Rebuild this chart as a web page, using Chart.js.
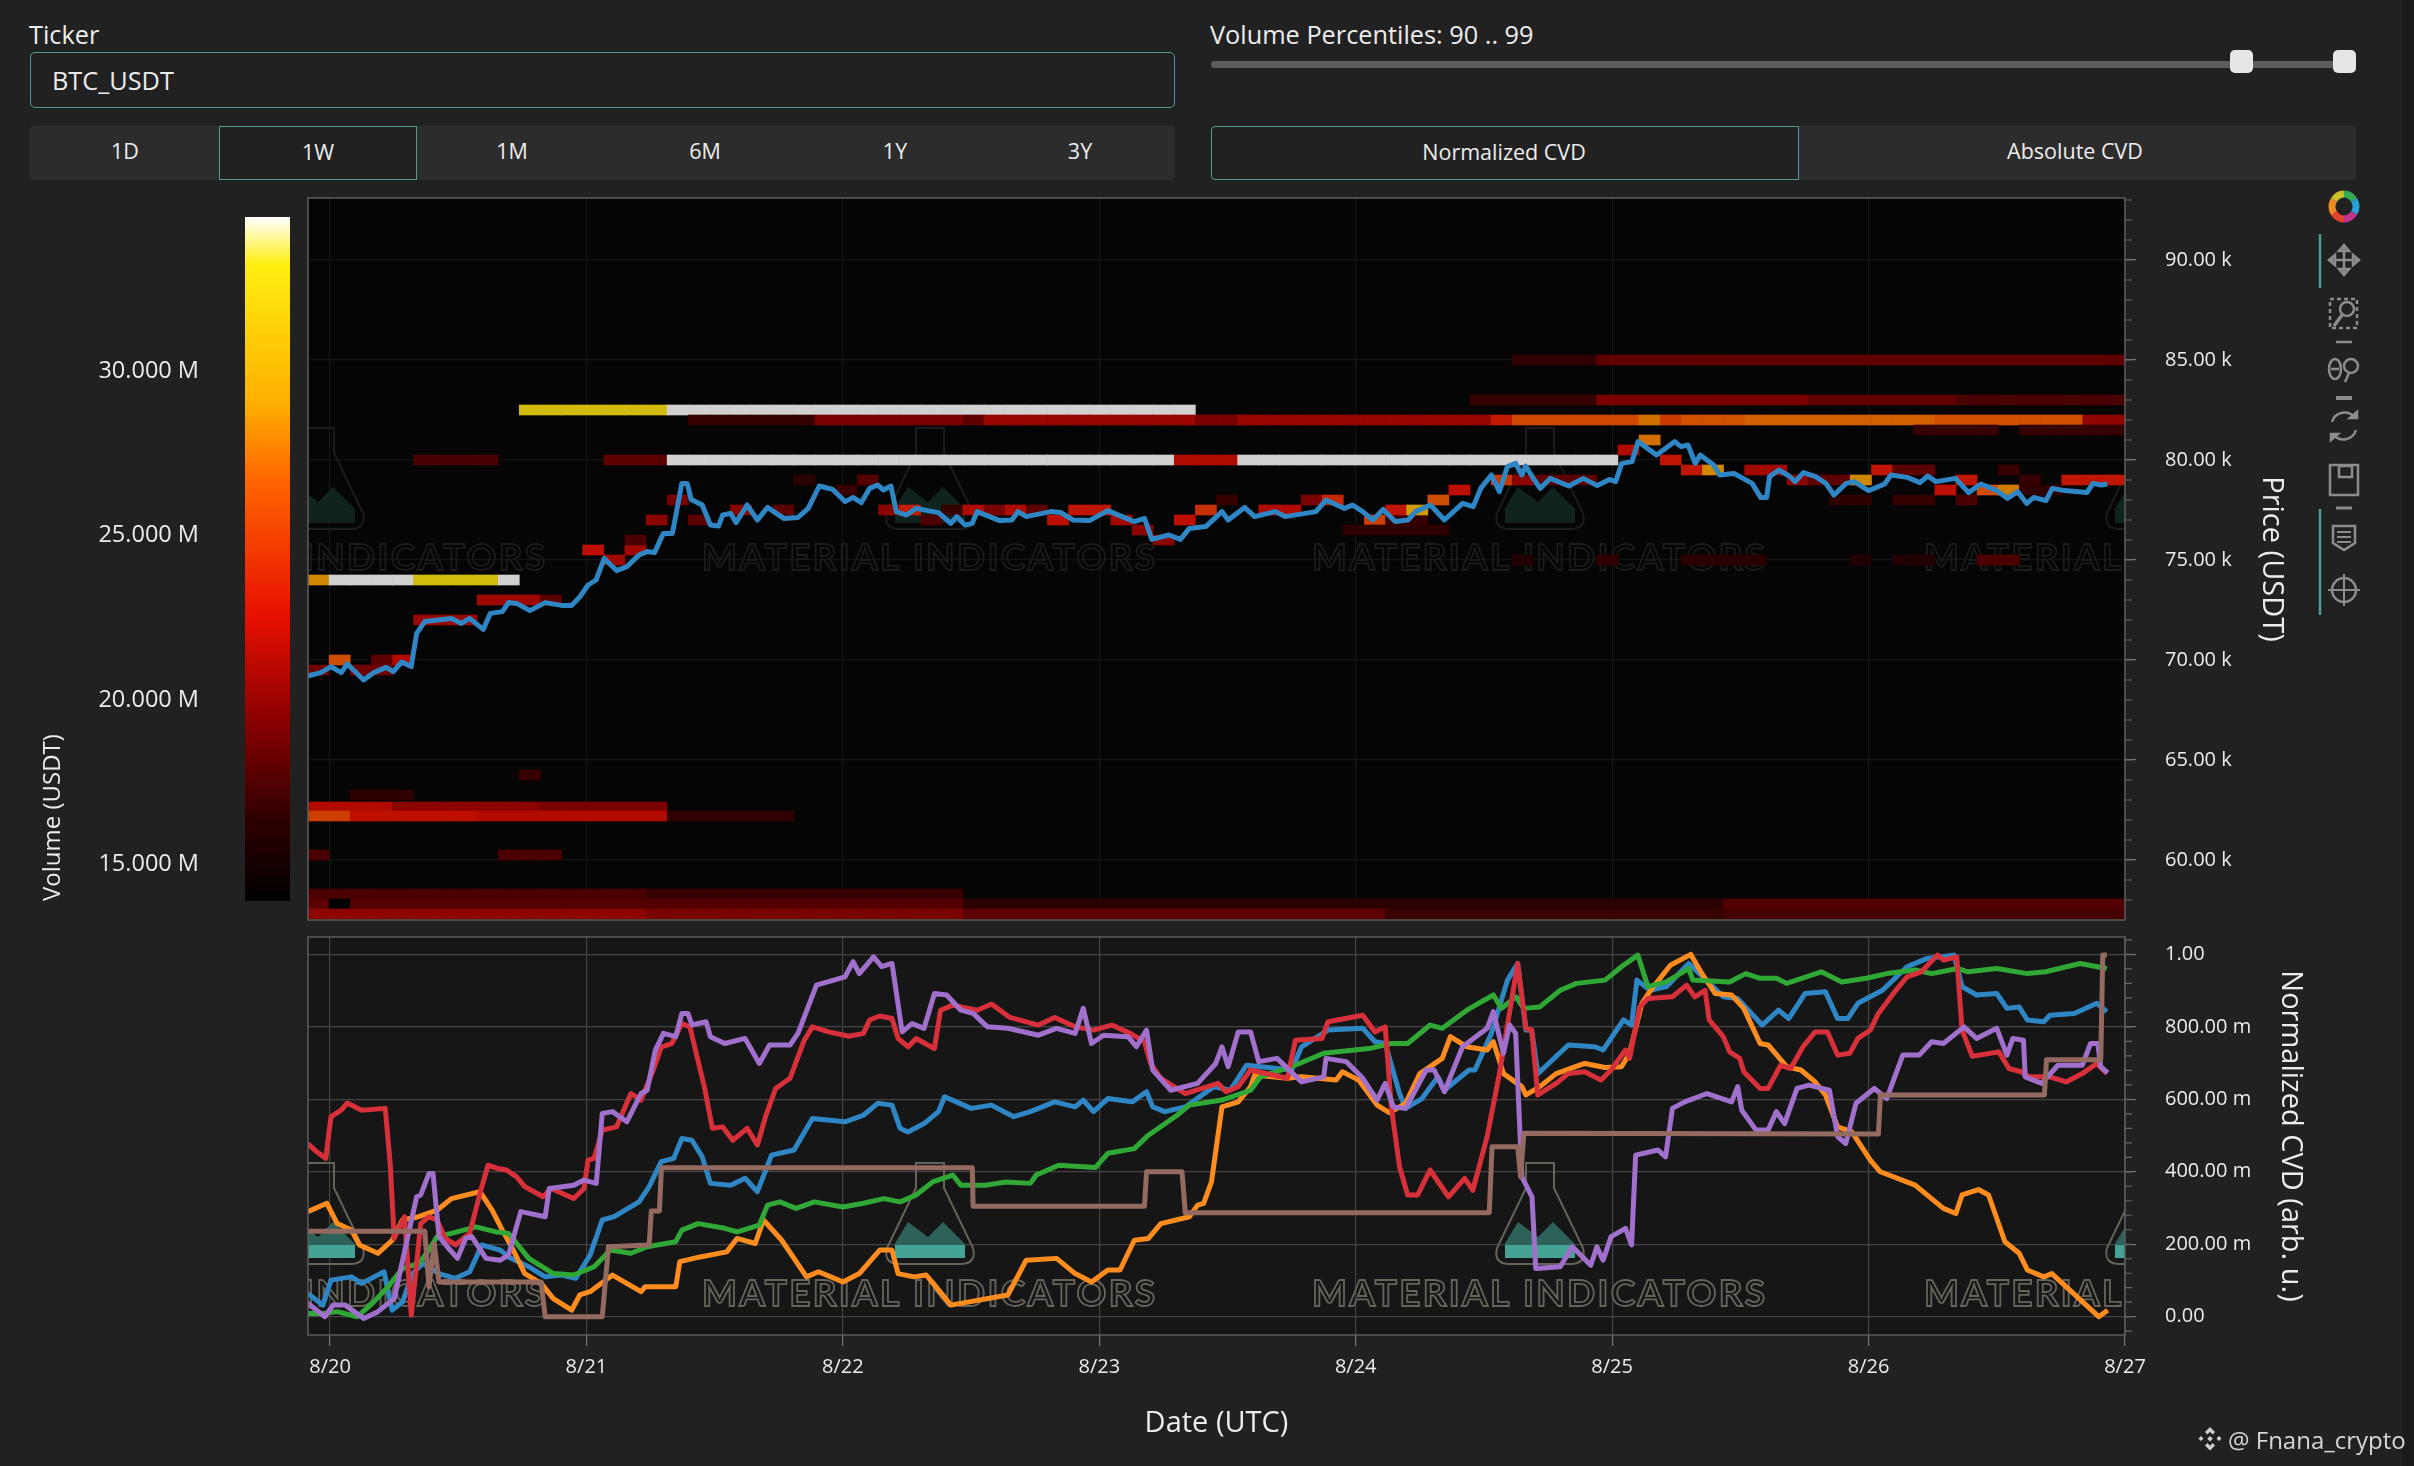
<!DOCTYPE html>
<html>
<head>
<meta charset="utf-8">
<title>BTC_USDT CVD</title>
<script src="https://cdn.jsdelivr.net/npm/chart.js@4"></script>
<style>
html, body { margin: 0; padding: 0; width: 2414px; height: 1466px; overflow: hidden; background: #212121; color: #ececec; font-family: "Open Sans", "Noto Sans", sans-serif; }
canvas { position: absolute; }
.abs { position: absolute; }
.lbl { font-size: 25.3px; line-height: 34px; white-space: nowrap; }
.box { box-sizing: border-box; }
.seg { background: #2c2c2c; border-radius: 4px; }
.sel { background: #212121; border: 1.5px solid #4f9c94; box-sizing: border-box; }
.txt { font-size: 21.5px; line-height: 30px; transform: translate(-50%, -50%); white-space: nowrap; }
</style>
</head>
<body>
<div class="abs lbl" style="left:29px;top:17px">Ticker</div>
<div class="abs box" style="left:30px;top:52px;width:1145px;height:56px;border:1.5px solid #4f9c94;border-radius:5px"></div>
<div class="abs lbl" style="left:52px;top:63px">BTC_USDT</div>
<div class="abs seg" style="left:30px;top:126px;width:1145px;height:54px"></div>
<div class="abs sel" style="left:219px;top:126px;width:198px;height:54px"></div>
<div class="abs txt" style="left:125px;top:151px">1D</div>
<div class="abs txt" style="left:318px;top:152px">1W</div>
<div class="abs txt" style="left:512px;top:151px">1M</div>
<div class="abs txt" style="left:705px;top:151px">6M</div>
<div class="abs txt" style="left:895px;top:151px">1Y</div>
<div class="abs txt" style="left:1080px;top:151px">3Y</div>

<div class="abs lbl" style="left:1210px;top:17px">Volume Percentiles: 90 .. 99</div>
<div class="abs" style="left:1211px;top:61px;width:1135px;height:7px;background:#5c5c5c;border-radius:3px"></div>
<div class="abs" style="left:2230px;top:50px;width:23px;height:23px;background:#e6e6e6;border-radius:5px"></div>
<div class="abs" style="left:2333px;top:50px;width:23px;height:23px;background:#e6e6e6;border-radius:5px"></div>
<div class="abs seg" style="left:1211px;top:126px;width:1145px;height:54px"></div>
<div class="abs sel" style="left:1211px;top:126px;width:588px;height:54px;border-radius:4px 0 0 4px"></div>
<div class="abs txt" style="left:1504px;top:152px">Normalized CVD</div>
<div class="abs txt" style="left:2075px;top:151px">Absolute CVD</div>

<canvas id="colorbar" width="251" height="695" style="left:39px;top:210px"></canvas>
<canvas id="heat" width="1989" height="740" style="left:300px;top:190px"></canvas>
<canvas id="cvd" width="2008" height="511" style="left:300px;top:930px"></canvas>

<svg class="abs" style="left:2300px;top:185px" width="90" height="430" viewBox="2300 185 90 430" fill="none" stroke="#8c8c8c" stroke-width="2.5">
  <g stroke-width="7" fill="none">
    <path d="M2344 194 A12 12 0 0 1 2354 200" stroke="#34a853"/>
    <path d="M2354 200 A12 12 0 0 1 2354 213" stroke="#2a9fd6"/>
    <path d="M2354 213 A12 12 0 0 1 2344 219" stroke="#c2338d"/>
    <path d="M2344 219 A12 12 0 0 1 2334 213" stroke="#e5432d"/>
    <path d="M2334 213 A12 12 0 0 1 2334 200" stroke="#f08a24"/>
    <path d="M2334 200 A12 12 0 0 1 2344 194" stroke="#c9c02a"/>
  </g>
  <line x1="2320" y1="234" x2="2320" y2="288" stroke="#4f9c94"/>
  <line x1="2320" y1="509" x2="2320" y2="616" stroke="#4f9c94"/>
  <path d="M2344 245V275M2329 260H2359M2344 245l-5 6h10zM2344 275l-5 -6h10zM2329 260l6 -5v10zM2359 260l-6 -5v10z"/>
  <rect x="2330" y="299" width="27" height="29" stroke-dasharray="4 3"/>
  <circle cx="2347" cy="309" r="7"/><line x1="2342" y1="315" x2="2334" y2="326" stroke-width="3.5"/>
  <line x1="2336" y1="342" x2="2352" y2="342"/>
  <ellipse cx="2335" cy="369" rx="6" ry="10"/><line x1="2331" y1="369" x2="2339" y2="369"/>
  <circle cx="2351" cy="366" r="7"/><line x1="2349" y1="373" x2="2345" y2="382"/>
  <line x1="2336" y1="398" x2="2352" y2="398" stroke-width="4"/>
  <path d="M2332 422 A13 13 0 0 1 2355 418M2356 430 A13 13 0 0 1 2333 434"/>
  <path d="M2350 418h7v-6zM2338 434h-7v6z" fill="#8c8c8c"/>
  <path d="M2330 465H2358V495H2330Z"/><rect x="2339" y="466" width="13" height="11"/>
  <line x1="2336" y1="508" x2="2352" y2="508" stroke-width="3"/>
  <path d="M2333 526H2355V543L2344 550L2333 543Z"/><path d="M2337 532H2351M2337 537H2351M2337 542H2351" stroke-width="2"/>
  <circle cx="2344" cy="590" r="12"/><path d="M2344 574V606M2328 590H2360" stroke-width="2"/>
</svg>

<div class="abs" style="left:2402px;top:0;width:12px;height:1466px;background:#1b1b1b"></div>
<svg class="abs" style="left:2196px;top:1426px" width="28" height="28" viewBox="0 0 28 28" fill="#cfcfcf">
  <path d="M14 1l5 5-2.4 2.4L14 5.8l-2.6 2.6L9 6zM5 10l2.5 2.5L5 15l-2.500-2.500zM23 10l2.500 2.500L23 15l-2.500-2.500zM14 10l2.800 2.800L14 15.600l-2.800-2.800zM14 24.500l-5-5 2.400-2.400 2.600 2.600 2.600-2.600 2.400 2.400z"/>
</svg>
<div class="abs" style="left:2228px;top:1423px;font-size:24px;line-height:34px;color:#d6d6d6;white-space:nowrap">@ Fnana_crypto</div>

<script>
// time axis is hours from 8/20 00:00 UTC
const dayTicks = [0, 24, 48, 72, 96, 120, 144, 168];
const dayLabels = ["8/20", "8/21", "8/22", "8/23", "8/24", "8/25", "8/26", "8/27"];
const xMin = -2.06;
const xMax = 168;

const priceTicks = [60000, 65000, 70000, 75000, 80000, 85000, 90000];
const cvdTicks = [0, 0.2, 0.4, 0.6, 0.8, 1];
const cvdTickLabels = ["0.00", "200.00 m", "400.00 m", "600.00 m", "800.00 m", "1.00"];
const volumeTicks = [15, 20, 25, 30];
const volumeRange = [13.9, 34.68];

const priceHours = [-2.08,-0.86,0.09,1.05,1.62,3.15,4.1,5.25,5.93,6.7,7.6,8.11,8.87,11.36,12.3,13.07,14.34,15,16.13,16.7,17.47,18.7,20.14,21.67,22.62,23.4,24.15,24.9,25.67,26.82,27.78,28.92,29.68,30.37,31.2,32.05,32.93,33.43,33.8,34.84,35.6,36.37,36.75,37.5,38,39.04,40,40.95,42.47,43.8,44.76,45.8,47.05,48.2,48.96,49.73,50.5,51.26,51.8,52.5,53,53.93,54.85,56.95,58.1,58.66,59.43,60.1,60.57,62.67,63.82,64.4,65.16,67.45,68.4,69.55,71.07,72.8,74.13,75.28,76.23,76.92,78.52,79.59,80.43,81.96,83.48,84.06,85.6,86.54,88.45,89.4,92.27,93.22,94.94,95.7,96.66,97.6,98.56,99.7,100.9,101.6,103,104.3,106,107,107.7,108.7,109.45,110.2,110.97,111.55,111.9,112.6,113.27,114.2,115.94,117.3,118.6,119.76,120.33,120.9,121.86,122.43,124.15,125.87,126.44,127.1,127.78,128.24,129.5,130.07,131.4,133.1,133.9,134.46,134.73,135.6,136.56,137.13,137.9,139.04,140,140.76,141.9,142.67,144,145.5,146.1,147.63,148.8,149.54,150.3,152.14,153.36,154.5,156,157,157.95,158.8,159.47,160.6,161.2,162.35,164.43,165,165.77,166.34];
const priceValues = [69200,69370,69670,69370,69800,69000,69370,69630,69420,69900,69670,71330,71920,72080,71830,72080,71530,72330,72420,72870,72830,72470,72870,72730,72730,73170,73750,74000,75080,74470,74670,75250,75420,75370,76330,76330,78830,78830,78030,77750,76750,76700,77250,77330,76870,77750,77000,77630,77080,77130,77580,78700,78530,77920,78130,77870,78580,78750,78500,78700,77420,77250,77580,77370,76830,77170,76750,76830,77420,76970,77000,77420,77170,77420,77370,77000,76970,77470,77170,76920,77080,76030,76250,76030,76580,76670,77420,77000,77630,77170,77420,77170,77420,78000,77580,77750,77420,77000,77530,76920,77000,77420,77750,77000,77830,77670,78580,79250,78420,79670,79830,79250,79700,79100,78580,79080,78700,79080,78720,79030,78920,79830,79920,80920,80250,80920,80670,80750,79830,80250,79750,79250,79330,78830,78130,78130,79170,79500,79200,78920,79370,79170,78830,78250,78830,78920,78470,78800,79250,79130,78870,79200,78920,79080,78370,78800,78470,78080,78420,77830,78130,77970,78580,78470,78370,78830,78750,78800];

const blueHours = [-2.08,-0.67,0.09,2,2.96,5.06,5.82,6.78,7.73,8.68,10.2,11.74,13.07,14.22,15.94,16.7,18.6,20.14,21.67,23,24.34,25.48,26.6,28.92,29.87,31,32.17,32.93,33.88,34.84,35.6,37.5,38.85,40,41.33,43.43,45.15,48.2,49.92,51.26,52.6,53.36,54.08,55.6,56.95,57.52,60,61.9,64,65.54,67.83,69.74,70.5,71.46,72.8,75.08,76.42,77,78.14,80.05,82.72,84.25,85.77,90,90.93,93.4,96.66,97.8,98.76,100.1,100.67,102.2,103.7,104.3,106.6,107.16,108.7,110.2,111.16,111.93,112.47,113.04,115.9,118.38,119.15,121.06,121.82,122.32,123.54,125.07,127.17,128.5,130.4,131.75,134.04,135.57,136.52,138.05,139.96,141.1,142.06,143,145.3,147.6,149.5,152,152.75,154.1,156,156.95,158.1,158.86,160.4,160.96,163.25,165.35,166.3];
const blueValues = [0.064,0.032,0.101,0.11,0.092,0.124,0.018,0.041,0.119,0.147,0.119,0.106,0.124,0.198,0.184,0.165,0.138,0.11,0.115,0.106,0.17,0.267,0.276,0.317,0.359,0.428,0.437,0.492,0.487,0.441,0.368,0.363,0.382,0.345,0.446,0.46,0.547,0.538,0.556,0.589,0.584,0.52,0.51,0.533,0.566,0.607,0.575,0.584,0.552,0.566,0.593,0.579,0.598,0.566,0.602,0.593,0.621,0.579,0.566,0.579,0.635,0.625,0.694,0.681,0.745,0.791,0.796,0.759,0.754,0.616,0.575,0.602,0.662,0.625,0.681,0.681,0.782,0.929,0.975,0.791,0.791,0.671,0.75,0.745,0.736,0.819,0.805,0.929,0.901,0.911,0.975,0.938,0.883,0.878,0.805,0.846,0.823,0.892,0.897,0.823,0.823,0.865,0.901,0.966,0.989,0.998,0.911,0.888,0.892,0.851,0.855,0.819,0.814,0.832,0.837,0.865,0.842];

const orangeHours = [-2.08,-0.29,0.67,2,2.76,4.48,5.82,6.78,8.3,10.02,11.36,14.03,15.17,16.13,17.08,18.23,19.76,20.9,22.62,23.38,24.34,26.44,29.11,29.5,32.36,32.74,34.65,37.13,38.1,39.8,40.57,42.28,44.6,45.72,48,49.54,51.45,52.6,53.17,54.66,55.8,58.1,63.44,65.16,68,69.74,71.27,72.8,73.94,75.28,76.6,77.76,80.43,81.2,81.77,82.5,83.48,85,86.16,86.54,89.6,90.93,94.17,94.75,96.28,98,99.14,100.67,102,104.1,104.86,106.4,108.3,108.88,109.83,111.55,111.93,113.23,114.76,117.43,119.34,120.87,121.63,122.78,123.73,125.45,127.36,128.3,129.65,131.18,132.32,133.85,134.6,136.33,137.67,139,139.96,141.1,142.44,144.16,145.1,148.36,151,152.17,152.75,154.28,155.23,156.76,158.1,158.86,160.4,161.15,165.54,166.38];
const orangeValues = [0.29,0.313,0.257,0.239,0.198,0.175,0.211,0.267,0.276,0.294,0.326,0.345,0.294,0.239,0.188,0.119,0.092,0.05,0.018,0.06,0.069,0.115,0.069,0.083,0.083,0.152,0.165,0.179,0.216,0.202,0.267,0.211,0.11,0.124,0.096,0.119,0.184,0.184,0.119,0.11,0.115,0.032,0.06,0.156,0.161,0.119,0.096,0.129,0.129,0.211,0.216,0.257,0.276,0.308,0.313,0.372,0.579,0.593,0.635,0.667,0.658,0.662,0.653,0.676,0.653,0.584,0.563,0.589,0.671,0.713,0.773,0.745,0.736,0.759,0.671,0.635,0.612,0.635,0.671,0.699,0.688,0.69,0.727,0.865,0.906,0.97,1,0.952,0.892,0.888,0.851,0.754,0.75,0.69,0.681,0.648,0.612,0.524,0.51,0.432,0.4,0.363,0.299,0.285,0.336,0.351,0.336,0.207,0.175,0.129,0.11,0.119,0,0.018];

const greenHours = [-2.08,-0.67,0.67,2.57,4.1,5.44,6.78,8.3,9.26,10.02,11.36,13.65,15.56,16.7,18.6,20.9,22.81,24.72,26.25,28.16,29.68,32.36,32.93,34.46,36.94,38.1,40.18,40.95,42.1,43.62,45.34,48,49.92,51.83,53.36,54.85,56.4,58.28,59.05,61.34,63.25,65.54,66.1,68.2,71.65,72.8,75.28,76.6,79.28,80.43,83.48,86.16,87.1,90,93,97.23,99.33,100.86,102.96,104.1,106.4,108.88,109.64,111,111.74,113.23,115.14,116.67,119.34,120.87,122.4,123.35,125.07,127.17,127.55,131,132.5,133.85,135.37,136.33,139.57,141.5,143.78,145.7,148.36,149.9,152.37,153.32,156,158.86,160.57,163.8,166.3];
const greenValues = [0.009,0.009,0.014,0,0.041,0.083,0.133,0.147,0.184,0.221,0.23,0.248,0.234,0.23,0.161,0.119,0.115,0.138,0.184,0.175,0.193,0.207,0.239,0.257,0.244,0.234,0.253,0.308,0.317,0.299,0.317,0.303,0.313,0.326,0.317,0.336,0.372,0.391,0.363,0.363,0.372,0.368,0.391,0.418,0.412,0.451,0.464,0.501,0.556,0.584,0.598,0.625,0.662,0.69,0.727,0.74,0.754,0.754,0.805,0.796,0.846,0.888,0.851,0.883,0.851,0.855,0.901,0.92,0.929,0.966,0.998,0.911,0.924,0.961,0.929,0.924,0.947,0.934,0.934,0.92,0.952,0.924,0.934,0.947,0.957,0.947,0.961,0.952,0.961,0.947,0.952,0.975,0.961];

const redHours = [-2.08,-1.24,-0.4,0.09,1.05,1.62,2.96,5.17,5.63,6.01,6.97,7.61,8.49,9.26,10.02,10.78,11.74,13.07,14.03,14.79,15.75,16.51,17.47,18.23,19.95,20.71,22.81,23.77,24.15,24.72,25.48,26.82,28.16,29.11,30.26,31.02,31.98,32.93,33.69,34.27,35.03,35.79,36.75,37.7,39.04,40,40.76,41.71,43.05,44.38,45.15,46.68,48.58,49.92,50.5,51.45,52.6,53.17,54.12,54.85,56.57,57.14,58.28,60.57,61.91,63.63,66.3,67.83,69.74,71.46,73.17,74.89,76.23,76.8,77.76,80.05,83.1,83.87,85,86.16,89.6,90.36,92.84,93.4,96.66,97.8,98.76,99.33,100.1,100.86,101.8,102.96,104.68,106.2,106.96,108.3,109.45,111.16,111.93,112.47,113.04,114.76,115.9,117.43,118.96,119.9,121.25,121.63,122.58,123.35,125.64,126.97,127.74,128.7,129.08,130.4,131,131.94,132.32,133.85,134.6,135.76,136.71,137.86,139,140.15,141.1,142.25,143,144.16,144.92,146.45,147.6,148.93,150.46,151.03,152.25,152.75,153.7,156.2,157.14,158.28,159.05,160.96,162.5,164,165.35,166.3];
const redValues = [0.478,0.455,0.437,0.552,0.57,0.59,0.57,0.575,0.423,0.216,0.276,0.004,0.257,0.276,0.267,0.216,0.198,0.23,0.34,0.418,0.409,0.405,0.386,0.359,0.331,0.354,0.326,0.354,0.432,0.437,0.515,0.524,0.616,0.598,0.681,0.745,0.754,0.809,0.8,0.727,0.635,0.52,0.524,0.487,0.52,0.474,0.552,0.63,0.658,0.763,0.8,0.786,0.774,0.782,0.819,0.83,0.823,0.768,0.745,0.768,0.74,0.846,0.86,0.846,0.863,0.826,0.805,0.826,0.8,0.791,0.805,0.782,0.759,0.699,0.658,0.616,0.644,0.621,0.635,0.681,0.658,0.763,0.768,0.814,0.832,0.786,0.8,0.579,0.414,0.336,0.336,0.405,0.331,0.382,0.349,0.497,0.671,0.975,0.796,0.791,0.612,0.644,0.671,0.676,0.653,0.681,0.736,0.713,0.855,0.878,0.883,0.915,0.883,0.901,0.819,0.773,0.731,0.713,0.676,0.63,0.63,0.694,0.685,0.745,0.786,0.786,0.722,0.727,0.768,0.791,0.837,0.897,0.938,0.952,0.998,0.984,0.993,0.791,0.719,0.731,0.685,0.676,0.662,0.662,0.648,0.671,0.699,0.671];

const purpleHours = [-2.08,-0.48,0.28,1.43,3.15,4.48,6.01,6.97,8.11,8.49,9.26,9.64,10.2,10.97,11.93,12.69,13.27,14.6,15.94,16.7,17.85,20.14,20.52,22.81,23.77,24.92,25.48,26.44,27.78,29.11,29.68,30.45,31.21,32.36,32.93,33.5,33.88,35.2,35.6,36.94,38.85,40.18,41.14,43.05,43.8,45.53,48.2,48.96,49.54,50.87,51.64,52.6,53.55,54.47,55.6,56.57,57.71,59.05,60.19,61.53,63.44,66.3,68,69.74,70.5,71.27,72.4,74.7,75.47,76.42,77,78.7,81.2,82.9,83.48,84.06,85,86.16,86.92,88.64,90.93,93,93.22,95.13,96.66,98,98.76,99.52,100.67,102.6,103.34,104.3,106,108.3,108.88,109.83,110.4,110.97,111.55,112.5,112.85,115.14,116.28,118,118.57,119.15,119.9,121.25,121.82,122.2,124.3,125,125.64,126.8,128.88,131.18,131.75,132.13,133.47,134.6,135.37,136.14,137.3,138.43,140.34,141.1,141.86,142.82,144.54,145.7,147.2,148.74,149.9,151,152.94,154.1,156,156.95,157.5,158.5,158.66,160.2,161.72,164,164.77,165.46,165.73,166.38];
const purpleValues = [0.037,0,0.032,0.032,-0.005,0.014,0.05,0.179,0.331,0.336,0.395,0.395,0.221,0.193,0.161,0.216,0.221,0.161,0.156,0.17,0.29,0.276,0.354,0.363,0.377,0.368,0.561,0.566,0.538,0.616,0.625,0.736,0.782,0.773,0.837,0.837,0.805,0.814,0.773,0.754,0.768,0.699,0.75,0.75,0.782,0.915,0.938,0.98,0.947,0.993,0.966,0.975,0.786,0.809,0.796,0.892,0.888,0.846,0.837,0.8,0.796,0.777,0.796,0.782,0.851,0.754,0.777,0.773,0.745,0.791,0.681,0.625,0.644,0.699,0.745,0.69,0.786,0.786,0.704,0.713,0.648,0.662,0.713,0.704,0.658,0.598,0.644,0.579,0.575,0.681,0.681,0.621,0.745,0.796,0.842,0.727,0.805,0.782,0.386,0.331,0.133,0.138,0.193,0.142,0.193,0.156,0.221,0.244,0.198,0.446,0.46,0.441,0.575,0.593,0.616,0.593,0.635,0.57,0.515,0.515,0.566,0.533,0.63,0.639,0.625,0.497,0.478,0.589,0.63,0.602,0.722,0.722,0.759,0.754,0.8,0.768,0.796,0.722,0.768,0.763,0.662,0.644,0.694,0.694,0.754,0.754,0.69,0.673];

const brownHours = [-2.08,8.87,9.26,9.75,10.2,19.76,20.14,25.48,26.06,29.87,30.07,30.83,31.02,60.12,60.19,76.23,76.42,79.74,80.05,108.5,108.76,111.16,111.43,111.74,144.92,145.11,160.46,160.65,165.73,165.92,166.3];
const brownValues = [0.236,0.236,0.083,0.202,0.096,0.096,0,0,0.193,0.198,0.292,0.292,0.411,0.411,0.305,0.305,0.4,0.4,0.287,0.287,0.469,0.469,0.386,0.506,0.504,0.612,0.612,0.709,0.709,0.998,0.998];

// heatmap runs: [price, first bin, last bin, volume in millions], 86 bins across the plot
const heatRuns = [
  [82500,10,16,32.6],[82500,17,41,34.68],
  [82000,18,23,17],[82000,24,30,19.7],[82000,31,31,18.6],[82000,32,41,21.1],[82000,42,43,19.7],[82000,44,55,21],[82000,56,56,23.3],[82000,57,62,26],[82000,63,63,27.8],[82000,64,64,25.1],[82000,65,67,26.5],[82000,68,76,27.2],[82000,77,83,26.4],[82000,84,85,20.6],
  [85000,57,60,16.7],[85000,61,85,18.6],
  [83000,55,60,17],[83000,61,70,19.7],[83000,71,77,18.7],[83000,78,85,17.7],
  [81500,76,79,17],[81500,81,85,17],
  [80000,5,8,17.8],[80000,14,16,18.5],[80000,17,40,34.68],[80000,41,43,22],[80000,44,61,34.68],
  [74000,0,0,28.7],[74000,1,4,34.68],[74000,5,8,32.6],[74000,9,9,34.68],
  [73000,8,10,21.2],[73000,11,11,18.5],
  [72000,5,7,21.1],
  [70000,1,1,26.3],[70000,3,3,18.5],[70000,4,4,22],
  [69500,0,0,19.3],[69500,2,3,19.3],
  [75500,13,13,22.6],[75500,15,15,21.3],
  [76000,15,15,17.8],[76000,40,40,20.4],
  [75000,14,14,21.3],[75000,57,57,15.9],[75000,61,61,16.7],[75000,65,68,16.5],[75000,73,73,15.9],[75000,75,76,15.9],[75000,79,80,17.8],
  [77000,16,16,20.4],[77000,18,18,18.5],[77000,29,29,17.8],[77000,35,35,22.6],[77000,38,38,21.3],[77000,41,41,22.6],[77000,50,50,25.5],[77000,51,52,17],
  [78000,17,17,19.5],[78000,43,43,17],[78000,47,47,19.7],[78000,48,48,24],[78000,53,53,26.3],[78000,72,73,16.7],[78000,75,76,17],[78000,78,78,17.8],
  [77500,20,20,20.4],[77500,22,22,18.5],[77500,27,27,20.4],[77500,28,28,23.5],[77500,30,30,17],[77500,31,31,22],[77500,32,32,19.7],[77500,33,33,22],[77500,34,34,18.5],[77500,36,37,23],[77500,42,42,24.5],[77500,45,46,22],[77500,51,51,23],[77500,52,52,30.1],
  [79000,23,23,16.5],[79000,26,26,18.2],[79000,56,56,25],[79000,57,57,20.4],[79000,58,60,18.5],[79000,70,70,20.4],[79000,71,72,18.5],[79000,73,73,28.7],[79000,78,78,23],[79000,81,81,17],[79000,83,85,23],
  [78500,25,25,17],[78500,54,54,22.6],[78500,77,77,22.6],[78500,79,79,26.3],[78500,80,80,28.2],[78500,81,82,16.7],
  [76500,39,39,20.4],[76500,49,53,16.7],
  [80500,62,62,22],
  [81000,63,63,27.8],
  [80000,64,64,23],
  [79500,65,65,23],[79500,66,66,28.7],[79500,68,69,21.3],[79500,74,74,23],[79500,75,76,18.5],[79500,80,80,17],
  [62650,0,3,22],[62650,4,10,20.4],[62650,11,16,19.7],
  [62200,0,1,25.5],[62200,2,7,22.6],[62200,8,16,22],[62200,17,22,16.7],
  [63250,2,4,16.7],
  [64250,10,10,17],
  [60250,0,0,17.8],[60250,9,11,17.8],
  [58300,0,15,17.8],[58300,16,30,17],
  [57800,0,0,18.5],[57800,1,1,13.9],[57800,2,30,18.2],[57800,31,66,16.5],[57800,67,85,18.2],
  [57300,0,15,20.5],[57300,16,30,19.7],[57300,31,50,18.5],[57300,51,66,17.1],[57300,67,85,17.6]
];
const heatBinCount = 86;
const heatRowSize = 500;

const AXIS_FONT = '"Open Sans", "Noto Sans", sans-serif';
const TEXT = "#ececec";

// black - red - orange - yellow - white, dimmed like the trace opacity in the original
const colorStops = [
  [0, 0, 0, 0], [0.12, 48, 0, 0], [0.265, 139, 0, 0], [0.417, 232, 16, 0],
  [0.615, 255, 102, 0], [0.73, 255, 176, 0], [0.93, 255, 238, 16], [1, 255, 255, 255]
];
function stopColor(t, dim) {
  let i = 1;
  while (i < colorStops.length - 1 && colorStops[i][0] < t) i++;
  const a = colorStops[i - 1], b = colorStops[i];
  const f = Math.max(0, Math.min(1, (t - a[0]) / (b[0] - a[0])));
  const c = [1, 2, 3].map(k => Math.round((a[k] + (b[k] - a[k]) * f) * dim));
  return "rgb(" + c.join(",") + ")";
}
function volumeColor(v) {
  return stopColor((v - volumeRange[0]) / (volumeRange[1] - volumeRange[0]), 0.82);
}

const zip = (hours, values) => hours.map((h, i) => ({ x: h, y: values[i] }));

const heatBinWidth = (xMax - xMin) / heatBinCount;
const heatCells = [];
const heatColors = [];
for (const [price, first, last, vol] of heatRuns) {
  for (let i = first; i <= last; i++) {
    heatCells.push({
      x: xMin + (i + 0.5) * heatBinWidth,
      y: [price - heatRowSize / 2, price + heatRowSize / 2]
    });
    heatColors.push(volumeColor(vol));
  }
}

// watermark sits under the traces, same spot in both panels
function watermark(chart, flaskTop, baseline, outline, liquidTop, liquidBand) {
  const ctx = chart.ctx;
  const a = chart.chartArea;
  ctx.save();
  ctx.beginPath();
  ctx.rect(a.left, a.top, a.width, a.height);
  ctx.clip();
  ctx.translate(-chart.canvas.offsetLeft, -chart.canvas.offsetTop);
  ctx.strokeStyle = outline;
  for (const cx of [320, 930, 1540, 2150]) {
    const t = flaskTop;
    ctx.lineWidth = 2;
    ctx.fillStyle = liquidTop;
    ctx.beginPath();
    ctx.moveTo(cx - 36, t + 82);
    ctx.lineTo(cx - 22, t + 59);
    ctx.lineTo(cx - 2, t + 74);
    ctx.lineTo(cx + 13, t + 59);
    ctx.lineTo(cx + 36, t + 82);
    ctx.closePath();
    ctx.fill();
    ctx.fillStyle = liquidBand;
    ctx.fillRect(cx - 35, t + 82, 70, 13);
    ctx.beginPath();
    ctx.moveTo(cx - 14, t);
    ctx.lineTo(cx + 14, t);
    ctx.lineTo(cx + 14, t + 25);
    ctx.lineTo(cx + 43, t + 85);
    ctx.quadraticCurveTo(cx + 47, t + 101, cx + 30, t + 101);
    ctx.lineTo(cx - 30, t + 101);
    ctx.quadraticCurveTo(cx - 47, t + 101, cx - 43, t + 85);
    ctx.lineTo(cx - 14, t + 25);
    ctx.closePath();
    ctx.stroke();
  }
  ctx.font = 'bold 37px Lato, "Open Sans", sans-serif';
  ctx.letterSpacing = "2.3px";
  ctx.textAlign = "left";
  ctx.lineWidth = 1.8;
  for (const x of [92, 702, 1312, 1924]) {
    ctx.strokeText("MATERIAL INDICATORS", x, baseline);
  }
  ctx.restore();
}

const panelPlugin = (bg, wm) => ({
  id: "panel",
  beforeDraw(chart) {
    const a = chart.chartArea;
    chart.ctx.fillStyle = bg;
    chart.ctx.fillRect(a.left, a.top, a.width, a.height);
  },
  beforeDatasetsDraw: wm,
  afterDraw(chart) {
    const a = chart.chartArea;
    const ctx = chart.ctx;
    ctx.strokeStyle = "#5c5c5c";
    ctx.lineWidth = 1.5;
    ctx.strokeRect(a.left, a.top, a.width, a.height);
    // minor ticks on the right axis
    const y = chart.scales.y;
    const o = chart.options.minorTicks;
    ctx.strokeStyle = "#666";
    ctx.lineWidth = 1.2;
    ctx.beginPath();
    for (let v = o.from; v <= o.to + 1e-9; v += o.step) {
      const p = y.getPixelForValue(v);
      ctx.moveTo(a.right, p);
      ctx.lineTo(a.right + 7, p);
    }
    ctx.stroke();
  }
});

// plot rectangle is fixed, so the axes must not ask the layout for label room
function fixSize(s, size) {
  if (s.isHorizontal()) s.height = size;
  else s.width = size;
  s.paddingTop = s.paddingBottom = s.paddingLeft = s.paddingRight = 0;
}

const dayAxis = (gridColor) => ({
  type: "linear",
  min: xMin,
  max: xMax,
  offset: false,
  afterBuildTicks(axis) { axis.ticks = dayTicks.map(v => ({ value: v })); },
  grid: { offset: false, color: gridColor, tickColor: "#777", tickLength: 11, lineWidth: 1.2 },
  border: { display: false }
});

new Chart(document.getElementById("heat"), {
  data: {
    datasets: [
      {
        type: "line",
        data: zip(priceHours, priceValues),
        borderColor: "#2f86c5",
        borderWidth: 5,
        pointRadius: 0,
        tension: 0,
        borderJoinStyle: "round",
        order: 0
      },
      {
        type: "bar",
        data: heatCells,
        backgroundColor: heatColors,
        borderWidth: 0,
        grouped: false,
        barPercentage: 1,
        categoryPercentage: 1,
        order: 1
      }
    ]
  },
  options: {
    responsive: false,
    animation: false,
    layout: { autoPadding: false, padding: { left: 8, top: 8, bottom: 10, right: 0 } },
    minorTicks: { from: 58000, to: 93000, step: 1000 },
    plugins: { legend: { display: false }, tooltip: { enabled: false } },
    scales: {
      x: {
        ...dayAxis("#151515"),
        grid: { offset: false, color: "#151515", drawTicks: false, lineWidth: 1.2 },
        ticks: { display: false },
        afterFit(s) { fixSize(s, 0); }
      },
      y: {
        type: "linear",
        position: "right",
        min: 57000,
        max: 93100,
        afterBuildTicks(axis) { axis.ticks = priceTicks.map(v => ({ value: v })); },
        afterFit(s) { fixSize(s, 164); },
        grid: { color: "#151515", tickColor: "#777", tickLength: 11, lineWidth: 1.2 },
        border: { display: false },
        ticks: {
          color: TEXT,
          padding: 29,
          font: { family: AXIS_FONT, size: 20 },
          callback: v => (v / 1000).toFixed(2) + " k"
        },
        title: {
          display: true,
          text: "Price (USDT)",
          color: TEXT,
          padding: 0,
          font: { family: AXIS_FONT, size: 29 }
        }
      }
    }
  },
  plugins: [panelPlugin("#050505", c => watermark(c, 428, 570, "#1c1c1c", "#10231f", "#10231f"))]
});

new Chart(document.getElementById("cvd"), {
  data: {
    datasets: [
      { name: "blue", hours: blueHours, values: blueValues, color: "#2f86c5" },
      { name: "orange", hours: orangeHours, values: orangeValues, color: "#ff8c1e" },
      { name: "green", hours: greenHours, values: greenValues, color: "#2fa836" },
      { name: "red", hours: redHours, values: redValues, color: "#d8303a" },
      { name: "purple", hours: purpleHours, values: purpleValues, color: "#a070cc" },
      { name: "brown", hours: brownHours, values: brownValues, color: "#946a60" }
    ].map((s, i) => ({
      type: "line",
      label: s.name,
      data: zip(s.hours, s.values),
      borderColor: s.color,
      borderWidth: 5,
      pointRadius: 0,
      tension: 0,
      borderJoinStyle: "round",
      order: 5 - i
    }))
  },
  options: {
    responsive: false,
    animation: false,
    layout: { autoPadding: false, padding: { left: 8, top: 7, bottom: 0, right: 0 } },
    minorTicks: { from: -0.04, to: 1.04, step: 0.04 },
    plugins: { legend: { display: false }, tooltip: { enabled: false } },
    scales: {
      x: {
        ...dayAxis("#444"),
        afterFit(s) { fixSize(s, 106); },
        ticks: {
          color: TEXT,
          padding: 9,
          maxRotation: 0,
          font: { family: AXIS_FONT, size: 20 },
          callback: v => dayLabels[dayTicks.indexOf(v)]
        },
        title: {
          display: true,
          text: "Date (UTC)",
          color: TEXT,
          padding: 0,
          font: { family: AXIS_FONT, size: 29 }
        }
      },
      y: {
        type: "linear",
        position: "right",
        min: -0.0505,
        max: 1.048,
        afterBuildTicks(axis) { axis.ticks = cvdTicks.map(v => ({ value: v })); },
        afterFit(s) { fixSize(s, 183); },
        grid: { color: "#444", tickColor: "#777", tickLength: 11, lineWidth: 1.2 },
        border: { display: false },
        ticks: {
          color: TEXT,
          padding: 29,
          font: { family: AXIS_FONT, size: 20 },
          callback: v => cvdTickLabels[cvdTicks.indexOf(v)]
        },
        title: {
          display: true,
          text: "Normalized CVD (arb. u.)",
          color: TEXT,
          padding: 0,
          font: { family: AXIS_FONT, size: 29 }
        }
      }
    }
  },
  plugins: [panelPlugin("#161616", c => watermark(c, 1163, 1306, "#66635a", "#2d6159", "#45a396"))]
});

new Chart(document.getElementById("colorbar"), {
  type: "bar",
  data: {
    labels: ["Volume"],
    datasets: [{
      data: [volumeRange],
      barPercentage: 1,
      categoryPercentage: 1,
      borderWidth: 0,
      backgroundColor(ctx) {
        const a = ctx.chart.chartArea;
        if (!a) return "#000";
        const g = ctx.chart.ctx.createLinearGradient(0, a.bottom, 0, a.top);
        colorStops.forEach(s => g.addColorStop(s[0], "rgb(" + s[1] + "," + s[2] + "," + s[3] + ")"));
        return g;
      }
    }]
  },
  options: {
    responsive: false,
    animation: false,
    layout: { autoPadding: false, padding: { top: 7, bottom: 4, left: 0, right: 0 } },
    plugins: { legend: { display: false }, tooltip: { enabled: false } },
    scales: {
      x: { display: false },
      y: {
        type: "linear",
        position: "left",
        min: volumeRange[0],
        max: volumeRange[1],
        afterBuildTicks(axis) { axis.ticks = volumeTicks.map(v => ({ value: v })); },
        afterFit(s) { fixSize(s, 206); },
        grid: { display: false, drawTicks: false },
        border: { display: false },
        ticks: {
          color: TEXT,
          padding: 46,
          font: { family: AXIS_FONT, size: 23.5 },
          callback: v => v.toFixed(3) + " M"
        },
        title: {
          display: true,
          text: "Volume (USDT)",
          align: "start",
          color: TEXT,
          padding: 0,
          font: { family: AXIS_FONT, size: 24 }
        }
      }
    }
  }
});
</script>
</body>
</html>
